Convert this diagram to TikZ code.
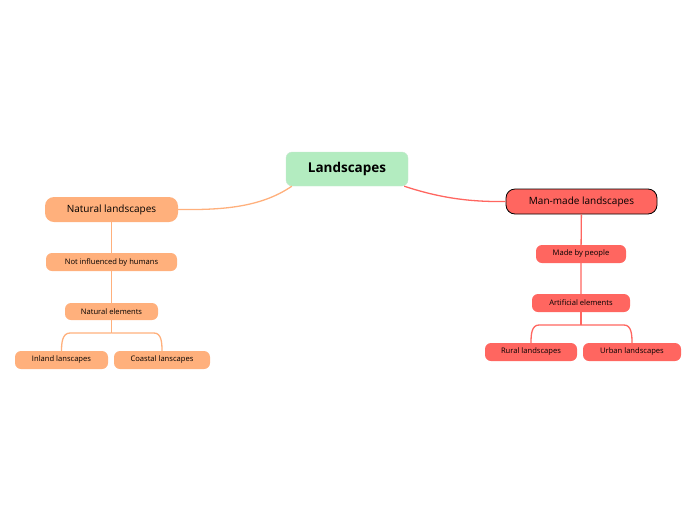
\documentclass[tikz,border=0pt]{standalone}
\usepackage{fontspec}
\setmainfont{Open Sans}
\definecolor{gr}{HTML}{B3ECC0}
\definecolor{grb}{HTML}{C8E8D0}
\definecolor{og}{HTML}{FFB07C}
\definecolor{rd}{HTML}{FF6660}
\begin{document}
\begin{tikzpicture}[x=1pt,y=-1pt,
 box/.style={rounded corners=6pt,inner sep=0pt,font=\fontsize{7.6}{9}\selectfont},
 nat/.style={box,fill=og},
 man/.style={box,fill=rd},
 oline/.style={og,line width=1.3pt},
 rline/.style={rd,line width=1.3pt}]
\useasboundingbox (0,0) rectangle (696,520);
\node[box,fill=gr,draw=grb,minimum width=122pt,minimum height=34pt,font=\bfseries\fontsize{13.5}{15}\selectfont] (c) at (347,169) {Landscapes};
\node[nat,minimum width=133pt,minimum height=25pt,rounded corners=9pt,font=\fontsize{10}{12}\selectfont] (n) at (111.5,209.5) {Natural landscapes};
\node[man,draw=black,line width=0.8pt,minimum width=151pt,minimum height=25pt,rounded corners=9pt,font=\fontsize{10}{12}\selectfont] (m) at (581.5,201.5) {Man-made landscapes};
\node[nat,minimum width=131pt,minimum height=18pt] (n1) at (111.5,262) {Not influenced by humans};
\node[nat,minimum width=93pt,minimum height=17pt] (n2) at (111.5,311.5) {Natural elements};
\node[nat,minimum width=93pt,minimum height=18pt] (n3) at (61.5,360) {Inland lanscapes};
\node[nat,minimum width=96pt,minimum height=18pt] (n4) at (162,360) {Coastal lanscapes};
\node[man,minimum width=90pt,minimum height=18pt] (m1) at (581,254) {Made by people};
\node[man,minimum width=98pt,minimum height=18pt] (m2) at (581,303) {Artificial elements};
\node[man,minimum width=92pt,minimum height=18pt] (m3) at (531,352) {Rural landscapes};
\node[man,minimum width=98pt,minimum height=18pt] (m4) at (632,352) {Urban landscapes};
\draw[oline] (c.south west)++(6,0) .. controls (260,208) and (220,210) .. (n.east);
\draw[rline] (c.south east)++(-4,0) .. controls (440,198) and (470,202) .. (m.west);
\draw[oline] (n) -- (n1) -- (n2);
\coordinate (ns) at (111.5,333);
\draw[oline] (n2.south) -- (ns);
\draw[oline] (ns) -- (70,333) to[out=180,in=90] (n3.north);
\draw[oline] (ns) -- (154,333) to[out=0,in=90] (n4.north);
\draw[rline] (m) -- (m1) -- (m2);
\coordinate (ms) at (581,325);
\draw[rline] (m2.south) -- (ms);
\draw[rline] (ms) -- (539,325) to[out=180,in=90] (m3.north);
\draw[rline] (ms) -- (624,325) to[out=0,in=90] (m4.north);
\end{tikzpicture}
\end{document}
